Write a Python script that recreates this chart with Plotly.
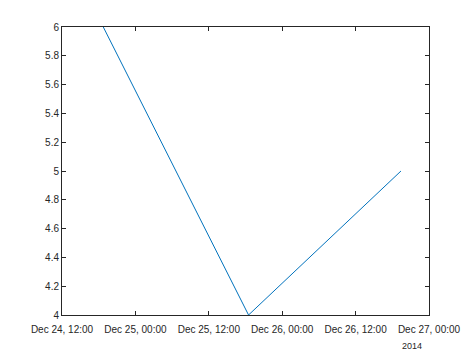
import plotly.graph_objects as go

dates = ["2014-12-24 18:45", "2014-12-25 18:30", "2014-12-26 19:25"]
values = [6, 4, 5]
x_range = ["2014-12-24 12:00", "2014-12-27 00:00"]
y_range = [4, 6]
year_label = "2014"

axis_color = "#262626"
fig = go.Figure()
fig.add_trace(go.Scatter(x=dates, y=values, mode="lines",
                         line=dict(color="#0072BD", width=1)))

common = dict(showline=True, linecolor=axis_color, linewidth=1, mirror="ticks",
              ticks="inside", ticklen=4, tickcolor=axis_color, tickwidth=1,
              showgrid=False, zeroline=False,
              tickfont=dict(family="Liberation Sans, Arial", size=10, color=axis_color))

fig.update_xaxes(range=x_range, type="date", tick0="2014-12-24 12:00",
                 dtick=12 * 3600 * 1000, tickformat="%b %d, %H:%M",
                 ticklabelstandoff=5, **common)
fig.update_yaxes(range=y_range, dtick=0.2, tickformat="~g", **common)

fig.add_annotation(text=year_label, xref="paper", yref="paper", x=0.954, y=-0.106,
                   showarrow=False, xanchor="center", yanchor="middle",
                   font=dict(family="Liberation Sans, Arial", size=9, color=axis_color))

fig.update_layout(width=474, height=355, plot_bgcolor="white", paper_bgcolor="white",
                  margin=dict(l=62, r=45, t=27, b=40), showlegend=False)

fig.write_html("out.html")
